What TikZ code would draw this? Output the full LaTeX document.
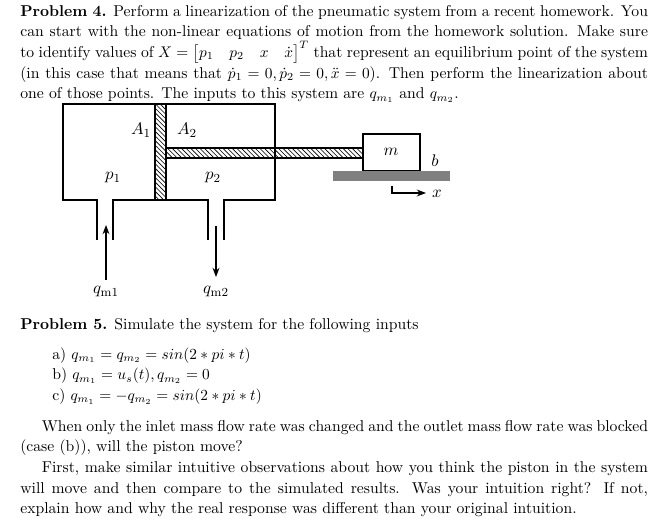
\documentclass[tikz,border=0pt]{standalone}
\usepackage{amsmath}
\usetikzlibrary{positioning,patterns,arrows.meta}

\tikzset{
  para/.style={anchor=north west, inner sep=0pt, text width=408pt, align=justify,
    font=\fontsize{10.2}{13.4}\selectfont},
  lbl/.style={inner sep=0pt, font=\fontsize{10.95}{13.6}\selectfont},
  wall/.style={thick},
  hatch/.style={draw, thick, pattern=north west lines},
  flow/.style={-{Stealth[length=6pt]}, thick}
}

\begin{document}
\begin{tikzpicture}[x=0.65pt, y=-0.65pt]
		
		\useasboundingbox (0,0) rectangle (662,530);
		
		% Problem 4 text
		\node[para] (probfour) at (20,5) {\textbf{Problem 4.} Perform a linearization of the pneumatic system from a recent homework. You can start with the non-linear equations of motion from the homework solution. Make sure to identify values of $X=\bigl[p_1\quad p_2\quad x\quad \dot{x}\bigr]^T$ that represent an equilibrium point of the system (in this case that means that $\dot{p}_1=0,\dot{p}_2=0,\ddot{x}=0$). Then perform the linearization about one of those points. The inputs to this system are $q_{m_1}$ and $q_{m_2}$.};
		
		% Cylinder walls
		\draw[wall] (97,240) -- (97,200) -- (63,200) -- (63,104) -- (275,104) -- (275,200) -- (224,200) -- (224,240);
		\draw[wall] (113,240) -- (113,200) -- (208,200) -- (208,240);
		
		% Piston, rod, mass, ground
		\draw[hatch] (155,104) rectangle (166,200);
		\draw[hatch] (166,148) rectangle (363,158);
		\draw[thick] (363,134) rectangle (420,171);
		\fill[gray] (333,171) rectangle (450,181);
		
		% Labels
		\node[lbl] (aone) at (141,130) {$A_1$};
		\node[lbl] (atwo) at (187,130) {$A_2$};
		\node[lbl] (pone) at (113,178) {$p_1$};
		\node[lbl] (ptwo) at (213,178) {$p_2$};
		\node[lbl] (mass) at (391,152) {$m$};
		\node[lbl] (damp) at (435,161) {$b$};
		\node[lbl] (xlbl) at (437,194) {$x$};
		\node[lbl] (qone) at (106,292) {$q_{\mathrm{m1}}$};
		\node[lbl] (qtwo) at (216,292) {$q_{\mathrm{m2}}$};
		
		% Arrows
		\coordinate (qonetip) at (106,225);
		\coordinate (qonetail) at (106,280);
		\coordinate (qtwotop) at (216,226);
		\coordinate (qtwotip) at (216,277);
		\coordinate (xstart) at (392,186);
		\coordinate (xend) at (426,193);
		\draw[flow] (qonetail) -- (qonetip);
		\draw[flow] (qtwotop) -- (qtwotip);
		\draw[flow] (xstart) |- (xend);
		
		% Problem 5 text
		\node[para] (probfive) at (20,318) {\textbf{Problem 5.} Simulate the system for the following inputs};
		\node[para, text width=300pt] (inputs) at (52,347) {a) $q_{m_1}=q_{m_2}=sin(2*pi*t)$\\
			b) $q_{m_1}=u_s(t),q_{m_2}=0$\\
			c) $q_{m_1}=-q_{m_2}=sin(2*pi*t)$};
		\node[para] (question) at (20,420) {\hspace*{14pt}When only the inlet mass flow rate was changed and the outlet mass flow rate was blocked (case (b)), will the piston move?\par
			\hspace*{14pt}First, make similar intuitive observations about how you think the piston in the system will move and then compare to the simulated results. Was your intuition right? If not, explain how and why the real response was different than your original intuition.};
		
		\end{tikzpicture}
\end{document}
